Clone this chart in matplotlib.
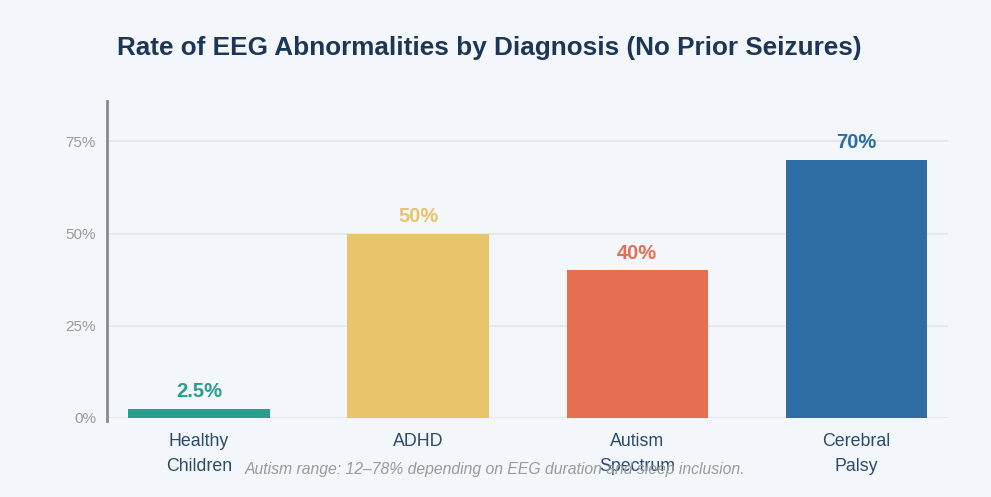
import matplotlib
matplotlib.use('Agg')
import matplotlib.pyplot as plt
from matplotlib.ticker import FuncFormatter

# ---------- Data ----------
categories = ["Healthy\nChildren", "ADHD", "Autism\nSpectrum", "Cerebral\nPalsy"]
rates = [2.5, 50, 40, 70]
value_labels = ["2.5%", "50%", "40%", "70%"]
bar_colors = ["#2a9d8f", "#e9c46a", "#e76f51", "#2e6da4"]
yticks = [0, 25, 50, 75]

title = "Rate of EEG Abnormalities by Diagnosis (No Prior Seizures)"
note = "Autism range: 12\u201378% depending on EEG duration and sleep inclusion."

bg = "#f3f6fb"
plt.rcParams['font.family'] = ['Liberation Sans', 'DejaVu Sans']

# ---------- Figure ----------
fig = plt.figure(figsize=(9.91, 4.97), dpi=100, facecolor=bg)
ax = fig.add_axes([0.108, 0.159, 0.849, 0.638], facecolor=bg)

x = list(range(len(categories)))
ax.bar(x, rates, width=0.645, color=bar_colors, zorder=3)

for xi, v, lab, c in zip(x, rates, value_labels, bar_colors):
    ax.annotate(lab, (xi, v), xytext=(0, 5.5), textcoords='offset points',
                ha='center', va='bottom', fontsize=14.5, fontweight='bold', color=c)

ax.set_xlim(-0.42, 3.42)
ax.set_ylim(0, 86)
ax.set_yticks(yticks)
ax.yaxis.set_major_formatter(FuncFormatter(lambda v, p: f"{v:.0f}%"))
ax.grid(axis='y', color='#e1e5eb', linewidth=1.2, zorder=0)

ax.set_xticks(x)
ax.set_xticklabels(categories, fontsize=12.8, color='#2c4a6e', linespacing=1.6)
ax.tick_params(axis='x', length=0, pad=11)
ax.tick_params(axis='y', length=0, pad=8, labelsize=11, labelcolor='#9a9a9a')

for s in ['top', 'right', 'bottom']:
    ax.spines[s].set_visible(False)
ax.spines['left'].set_color('#8a8a8a')
ax.spines['left'].set_linewidth(2)
ax.spines['left'].set_bounds(-0.8, 86)

fig.text(0.494, 0.903, title, ha='center', va='center', fontsize=18.8,
         fontweight='bold', color='#1d3557')
fig.text(0.5, 0.056, note, ha='center', va='center', fontsize=11.3,
         style='italic', color='#9a9a9a')

fig.savefig('out.png', dpi=100, facecolor=bg)
